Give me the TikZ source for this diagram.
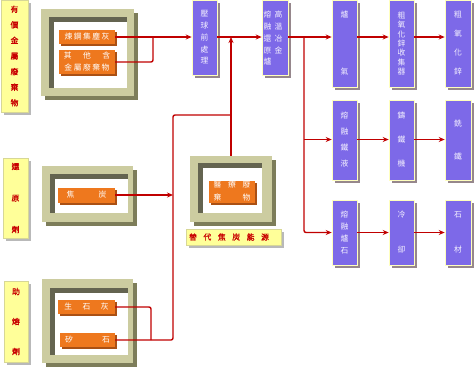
\documentclass[tikz,border=0pt]{standalone}
\usepackage{fontspec}
\newfontfamily\cjk{Noto Sans CJK TC}
\newfontfamily\cjkb{Noto Sans CJK TC}[FakeBold=1.2]
\usetikzlibrary{arrows.meta,shadows}
\definecolor{purp}{RGB}{125,105,232}
\definecolor{pborder}{RGB}{255,255,190}
\definecolor{pshadow}{RGB}{150,135,140}
\definecolor{ptext}{RGB}{245,242,255}
\definecolor{ylw}{RGB}{255,255,153}
\definecolor{yborder}{RGB}{215,215,150}
\definecolor{yshadow}{RGB}{185,185,185}
\definecolor{rtext}{RGB}{200,0,0}
\definecolor{orng}{RGB}{238,120,30}
\definecolor{oshadow}{RGB}{170,80,20}
\definecolor{fout}{RGB}{204,204,160}
\definecolor{fside}{RGB}{125,125,90}
\definecolor{fbev}{RGB}{100,100,80}
\definecolor{conn}{RGB}{192,0,0}
\newcommand\gp{\hspace{1.5pt}}
\tikzset{
 pbox/.style={draw=pborder, line width=0.6pt, fill=purp, text=ptext, inner sep=0pt,
   minimum width=25pt, align=center, font=\cjk\fontsize{7.8}{#1}\selectfont,
   drop shadow={shadow xshift=3pt, shadow yshift=-3pt, fill=pshadow, opacity=1}},
 ptxt/.style={text=ptext, inner sep=0pt, align=center, font=\cjk\fontsize{7.8}{11.75}\selectfont},
 ybox/.style={draw=yborder, line width=0.5pt, fill=ylw, text=rtext, inner sep=0pt,
   align=center, font=\cjkb\fontsize{7.8}{#1}\selectfont,
   drop shadow={shadow xshift=3pt, shadow yshift=-3pt, fill=yshadow, opacity=1}},
 obox/.style={fill=orng, text=white, inner sep=0pt, align=center,
   font=\cjk\fontsize{7.8}{#1}\selectfont,
   drop shadow={shadow xshift=2pt, shadow yshift=-2pt, fill=oshadow, opacity=1}},
 fbox/.style={fill=fout, inner sep=0pt,
   drop shadow={shadow xshift=4pt, shadow yshift=-4pt, fill=fside, opacity=1}},
 line/.style={draw=conn, line width=1.4pt, rounded corners=2pt},
 arr/.style={line, -{Stealth[length=6pt,width=5pt]}}
}
\begin{document}
\begin{tikzpicture}[x=1pt,y=-1pt]
\useasboundingbox (0,0) rectangle (474,368);

% frames
\node[fbox, minimum width=93pt, minimum height=87pt] (f1) at (87.5,52.5) {};
\fill[fbev] (49,17) rectangle (127,88);
\fill[white] (54,22) rectangle (127,88);
\node[fbox, minimum width=91pt, minimum height=56pt] (f2) at (87.5,194) {};
\fill[fbev] (50,174) rectangle (128,213);
\fill[white] (55,179) rectangle (128,213);
\node[fbox, minimum width=91pt, minimum height=84pt] (f3) at (87.5,321) {};
\fill[fbev] (50,288) rectangle (128,355);
\fill[white] (55,293) rectangle (128,355);
\node[fbox, minimum width=82pt, minimum height=66pt] (f4) at (231,189) {};
\fill[fbev] (198,163) rectangle (262,213);
\fill[white] (203,168) rectangle (262,213);

% orange items
\node[obox=10, minimum width=56pt, minimum height=14pt] (o1) at (87,37) {煉\gp 鋼\gp 集\gp 塵\gp 灰};
\node[obox=12, minimum width=56pt, minimum height=24pt] (o2) at (87,62) {其\hspace{11.5pt}他\hspace{11.5pt}含\\金\gp 屬\gp 廢\gp 棄\gp 物};
\node[obox=10, minimum width=57pt, minimum height=15pt] (o3) at (86.5,195) {焦\hspace{24pt}炭};
\node[obox=10, minimum width=57pt, minimum height=14pt] (o4) at (86.5,307) {生\hspace{10.5pt}石\hspace{10.5pt}灰};
\node[obox=10, minimum width=55pt, minimum height=14pt] (o5) at (87.5,340) {矽\hspace{29pt}石};
\node[obox=13, minimum width=46pt, minimum height=22pt] (o6) at (232,191.5) {醫\hspace{6.7pt}療\hspace{6.7pt}廢\\棄\hspace{21.2pt}物};

% yellow labels
\node[ybox=15.6, minimum width=27pt, minimum height=112pt] (y1) at (14.5,56) {有\\價\\金\\屬\\廢\\棄\\物};
\node[ybox=31.5, minimum width=25pt, minimum height=80pt] (y2) at (15.5,198) {還\\原\\劑};
\node[ybox=30, minimum width=24pt, minimum height=81pt] (y3) at (16,321.5) {助\\熔\\劑};
\node[ybox=10, minimum width=95pt, minimum height=16pt] (y4) at (233.5,237) {替\hspace{6.6pt}代\hspace{6.6pt}焦\hspace{6.6pt}炭\hspace{6.6pt}能\hspace{6.6pt}源\hspace{9pt}};

% purple process boxes
\node[pbox=11.75, minimum height=75pt] (pb) at (204.5,37.5) {壓\\球\\前\\處\\理};
\node[pbox=12, minimum width=26pt, minimum height=75pt] (gz) at (275,37.5) {};
\node[ptxt] (gzr) at (278.5,32.5) {高\\溫\\冶\\金};
\node[ptxt] (gzl) at (267.5,38.5) {熔\\融\\還\\原\\爐};
\node[pbox=57, minimum height=87pt] (lq) at (344.5,43.5) {爐\\氣};
\node[pbox=9.4, minimum height=87pt] (col) at (401.5,43.5) {粗\\氧\\化\\鋅\\收\\集\\器};
\node[pbox=19, minimum width=26pt, minimum height=87pt] (zno) at (458,43.5) {粗\\氧\\化\\鋅};
\node[pbox=16, minimum height=80pt] (iron) at (344.5,140) {熔\\融\\鐵\\液};
\node[pbox=24, minimum height=80pt] (cast) at (401.5,140) {鑄\\鐵\\機};
\node[pbox=33, minimum width=26pt, minimum height=80pt] (pig) at (458,140) {銑\\鐵};
\node[pbox=11.7, minimum height=65pt] (slag) at (344.5,232.5) {熔\\融\\爐\\石};
\node[pbox=35, minimum height=65pt] (cool) at (401.5,232.5) {冷\\卻};
\node[pbox=35, minimum width=26pt, minimum height=65pt] (stone) at (458,232.5) {石\\材};

% helper coordinates
\coordinate (r1) at (0,37);
\coordinate (r2) at (0,139.5);
\coordinate (r3) at (0,232.5);
\coordinate (j1) at (153,37);
\coordinate (j2) at (304,37);
\coordinate (j3) at (151,340);
\coordinate (k1) at (173,115);

% connectors
\draw[arr] (o1.east) -- (o1.east -| pb.west);
\draw[line] (o2.east) -| (j1);
\draw[arr] (pb.east |- r1) -- (gz.west |- r1);
\draw[arr] (f4.north) -- (f4.north |- r1);
\draw[line] (o5.east) -| (k1) -- (k1 -| f4.north);
\draw[line] (o4.east) -| (j3);
\draw[arr] (o3.east) -- (o3.east -| k1);
\draw[arr] (gz.east |- r1) -- (lq.west |- r1);
\draw[arr] (lq.east |- r1) -- (col.west |- r1);
\draw[arr] (col.east |- r1) -- (zno.west |- r1);
\draw[arr] (j2) |- (slag.west |- r3);
\draw[arr] (j2 |- r2) -- (iron.west |- r2);
\draw[arr] (iron.east |- r2) -- (cast.west |- r2);
\draw[arr] (cast.east |- r2) -- (pig.west |- r2);
\draw[arr] (slag.east |- r3) -- (cool.west |- r3);
\draw[arr] (cool.east |- r3) -- (stone.west |- r3);
\end{tikzpicture}
\end{document}
